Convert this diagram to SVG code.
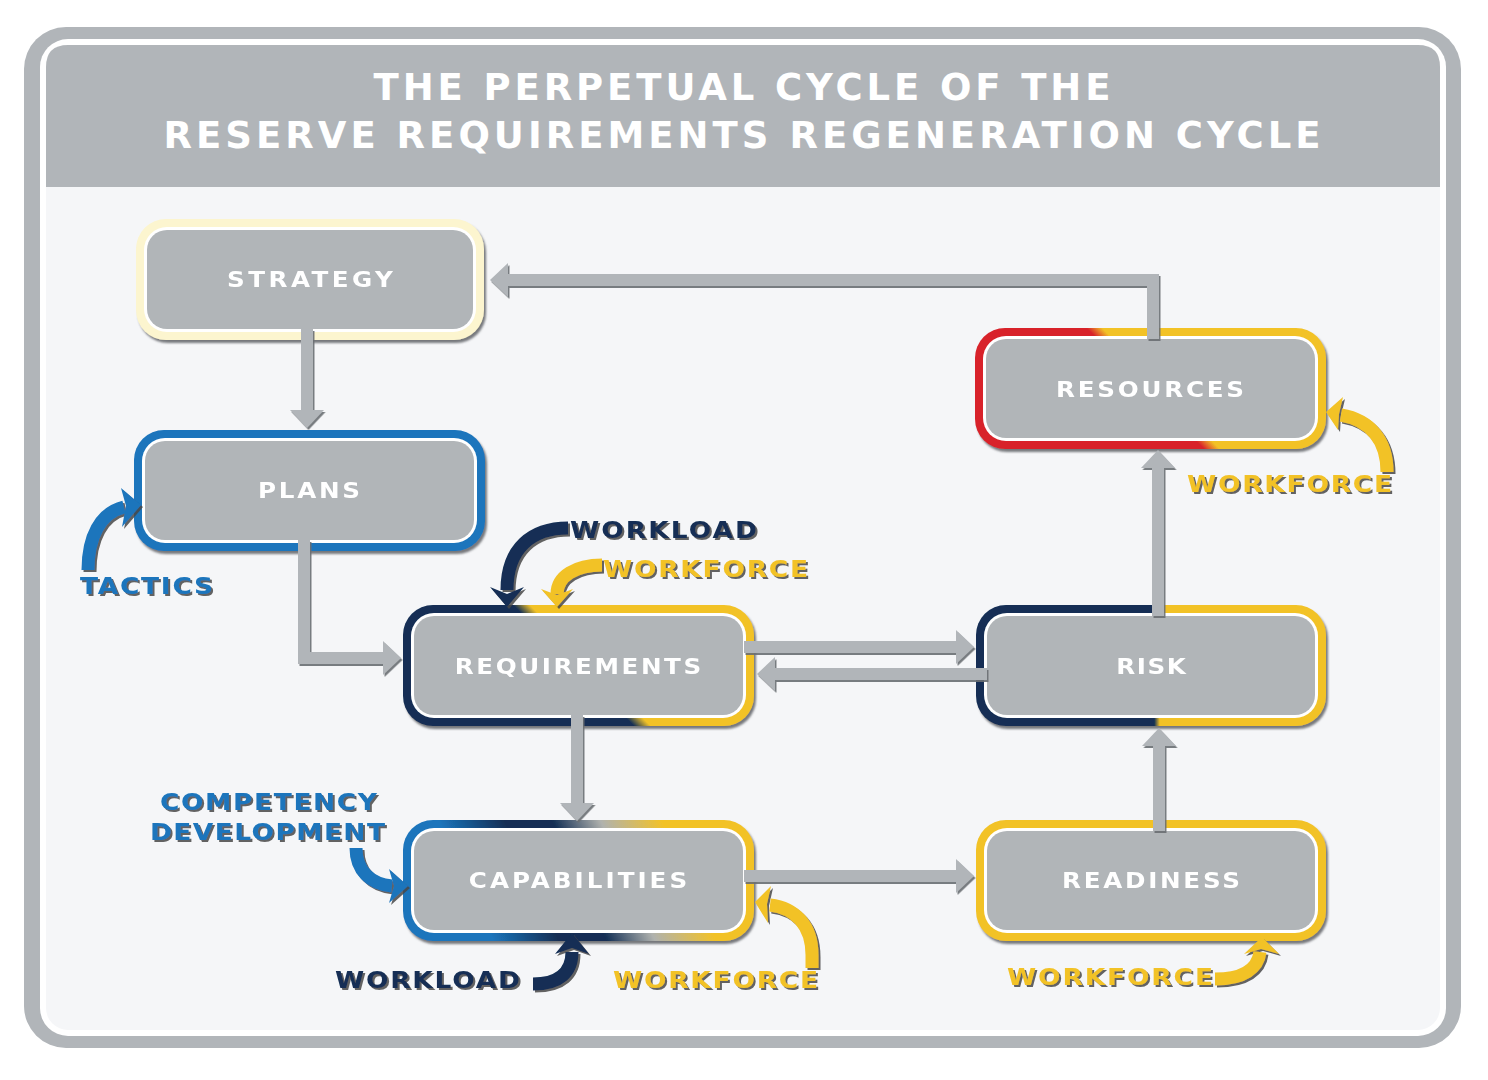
<svg xmlns="http://www.w3.org/2000/svg" width="1488" height="1080" viewBox="0 0 1488 1080">
<defs>
<style>
.frame{fill:#b1b5b9}
.ttl{font-family:"DejaVu Sans","Liberation Sans",sans-serif;font-weight:700;font-size:37px;fill:#ffffff;text-anchor:middle}
.nt{font-family:"DejaVu Sans","Liberation Sans",sans-serif;font-weight:700;font-size:22px;fill:#ffffff;text-anchor:middle}
.gray{fill:#b1b5b8}
.wht{fill:#ffffff}
.lbl{font-family:"DejaVu Sans","Liberation Sans",sans-serif;font-weight:700;font-size:23px}
.blue{fill:#1b75bc}
.navy{fill:#132f55}
.yel{fill:#f2c228}
.sblue{stroke:#1b75bc}
.snavy{stroke:#132f55}
.syel{stroke:#f2c228}
.curve{fill:none;stroke-width:13}
.conn{fill:none;stroke:#b1b5b9;stroke-width:12}
</style>
<filter id="nsh" x="-10%" y="-10%" width="120%" height="130%">
<feDropShadow dx="2" dy="3" stdDeviation="1" flood-color="#4d5054" flood-opacity="0.75"/>
</filter>
<filter id="csh" x="-10%" y="-10%" width="120%" height="120%">
<feDropShadow dx="1.5" dy="2" stdDeviation="0.6" flood-color="#6b6e72" flood-opacity="0.9"/>
</filter>
<filter id="lsh" x="-10%" y="-20%" width="120%" height="140%">
<feDropShadow dx="2" dy="2" stdDeviation="0.5" flood-color="#4a4a4a" flood-opacity="0.85"/>
</filter>
<marker id="ah" markerUnits="userSpaceOnUse" viewBox="0 0 18 34" markerWidth="18" markerHeight="34" refX="0" refY="17" orient="auto">
<path d="M0,0 L18,17 L0,34 Z" fill="#b1b5b9"/>
</marker>
<linearGradient id="gReq" gradientUnits="userSpaceOnUse" x1="560" y1="700" x2="620" y2="640">
<stop offset="0.40" stop-color="#132f55"/>
<stop offset="0.54" stop-color="#f2c228"/>
</linearGradient>
<linearGradient id="gRisk" gradientUnits="userSpaceOnUse" x1="1150" y1="0" x2="1164" y2="0">
<stop offset="0.3" stop-color="#132f55"/>
<stop offset="0.7" stop-color="#f2c228"/>
</linearGradient>
<linearGradient id="gRes" gradientUnits="userSpaceOnUse" x1="1110" y1="430" x2="1210" y2="333">
<stop offset="0.39" stop-color="#d8232a"/>
<stop offset="0.47" stop-color="#f2c228"/>
</linearGradient>
<linearGradient id="gCap" gradientUnits="userSpaceOnUse" x1="400" y1="900" x2="763" y2="735">
<stop offset="0.17" stop-color="#1b75bc"/>
<stop offset="0.32" stop-color="#132f55"/>
<stop offset="0.43" stop-color="#132f55"/>
<stop offset="0.54" stop-color="#b0b2ae"/>
<stop offset="0.68" stop-color="#f2c228"/>
</linearGradient>
</defs>

<!-- frame -->
<rect class="frame" x="24" y="27" width="1437" height="1021" rx="42"/>
<rect class="wht" x="40" y="39" width="1406" height="997" rx="28"/>
<rect x="46" y="45" width="1394" height="985" rx="22" fill="#f5f6f8"/>
<path class="frame" d="M46,187 V67 Q46,45 68,45 H1418 Q1440,45 1440,67 V187 Z"/>
<text class="ttl" x="742" y="100" textLength="737" lengthAdjust="spacing">THE PERPETUAL CYCLE OF THE</text>
<text class="ttl" x="742" y="148" textLength="1157" lengthAdjust="spacing">RESERVE REQUIREMENTS REGENERATION CYCLE</text>

<!-- nodes -->
<g id="strategy" filter="url(#nsh)">
<rect x="136" y="219" width="348" height="121" rx="30" fill="#fcf5cf"/>
<rect class="wht" x="144" y="227" width="332" height="105" rx="23"/>
<rect class="gray" x="147" y="230" width="326" height="99" rx="20"/>
<text class="nt" transform="translate(310,287) scale(1.12,1)" x="0" y="0" textLength="148" lengthAdjust="spacing">STRATEGY</text>
</g>
<g id="plans" filter="url(#nsh)">
<rect x="134" y="430" width="351" height="121" rx="30" fill="#1b75bc"/>
<rect class="wht" x="142" y="438" width="335" height="105" rx="23"/>
<rect class="gray" x="145" y="441" width="329" height="99" rx="20"/>
<text class="nt" transform="translate(309,498) scale(1.12,1)" x="0" y="0" textLength="91" lengthAdjust="spacing">PLANS</text>
</g>
<g id="requirements" filter="url(#nsh)">
<rect x="403" y="605" width="351" height="121" rx="30" fill="url(#gReq)"/>
<rect class="wht" x="411" y="613" width="335" height="105" rx="23"/>
<rect class="gray" x="414" y="616" width="329" height="99" rx="20"/>
<text class="nt" transform="translate(578,674) scale(1.12,1)" x="0" y="0" textLength="220" lengthAdjust="spacing">REQUIREMENTS</text>
</g>
<g id="risk" filter="url(#nsh)">
<rect x="976" y="605" width="350" height="121" rx="30" fill="url(#gRisk)"/>
<rect class="wht" x="984" y="613" width="334" height="105" rx="23"/>
<rect class="gray" x="987" y="616" width="328" height="99" rx="20"/>
<text class="nt" transform="translate(1151,674) scale(1.12,1)" x="0" y="0" textLength="62" lengthAdjust="spacing">RISK</text>
</g>
<g id="capabilities" filter="url(#nsh)">
<rect x="403" y="820" width="351" height="121" rx="30" fill="url(#gCap)"/>
<rect class="wht" x="411" y="828" width="335" height="105" rx="23"/>
<rect class="gray" x="414" y="831" width="329" height="99" rx="20"/>
<text class="nt" transform="translate(578,888) scale(1.12,1)" x="0" y="0" textLength="195" lengthAdjust="spacing">CAPABILITIES</text>
</g>
<g id="readiness" filter="url(#nsh)">
<rect x="976" y="820" width="350" height="121" rx="30" fill="#f2c228"/>
<rect class="wht" x="984" y="828" width="334" height="105" rx="23"/>
<rect class="gray" x="987" y="831" width="328" height="99" rx="20"/>
<text class="nt" transform="translate(1151,888) scale(1.12,1)" x="0" y="0" textLength="159" lengthAdjust="spacing">READINESS</text>
</g>
<g id="resources" filter="url(#nsh)">
<rect x="975" y="328" width="351" height="121" rx="30" fill="url(#gRes)"/>
<rect class="wht" x="983" y="336" width="335" height="105" rx="23"/>
<rect class="gray" x="986" y="339" width="329" height="99" rx="20"/>
<text class="nt" transform="translate(1150,397) scale(1.12,1)" x="0" y="0" textLength="168" lengthAdjust="spacing">RESOURCES</text>
</g>

<!-- connectors -->
<g id="connectors" filter="url(#csh)">
<path class="conn" d="M1153,339 V280 H508" marker-end="url(#ah)"/>
<path class="conn" d="M307,329 V410" marker-end="url(#ah)"/>
<path class="conn" d="M304,540 V658 H383" marker-end="url(#ah)"/>
<path class="conn" d="M744,647 H956" marker-end="url(#ah)"/>
<path class="conn" d="M987,674 H775" marker-end="url(#ah)"/>
<path class="conn" d="M577,715 V803" marker-end="url(#ah)"/>
<path class="conn" d="M744,876 H956" marker-end="url(#ah)"/>
<path class="conn" d="M1159,831 V746" marker-end="url(#ah)"/>
<path class="conn" d="M1158,616 V468" marker-end="url(#ah)"/>
</g>

<!-- influence labels -->
<g id="tactics" filter="url(#lsh)">
<path class="curve sblue" d="M88,570 C88,537 100,513 124,507"/>
<path class="blue" d="M141,505 L121,488 L126,506 L122,527 Z"/>
<text class="lbl blue" transform="translate(80,594) scale(1.15,1)" x="0" y="0" textLength="115.7" lengthAdjust="spacing">TACTICS</text>
</g>
<g id="workload-req" filter="url(#lsh)">
<path class="curve snavy" d="M568,528 C532,528 507,548 507,590"/>
<path class="navy" d="M507,607 L490,587 L507,594 L524,587 Z"/>
<text class="lbl navy" transform="translate(570,538) scale(1.15,1)" x="0" y="0" textLength="162.6" lengthAdjust="spacing">WORKLOAD</text>
</g>
<g id="workforce-req" filter="url(#lsh)">
<path class="curve syel" d="M602,565 C576,565 557,576 557,594"/>
<path class="yel" d="M557,607 L541,589 L557,595 L573,589 Z"/>
<text class="lbl yel" transform="translate(603,577) scale(1.15,1)" x="0" y="0" textLength="178.3" lengthAdjust="spacing">WORKFORCE</text>
</g>
<g id="competency" filter="url(#lsh)">
<path class="curve sblue" d="M356,848 C356,870 370,884 392,886"/>
<path class="blue" d="M408,886 L389,869 L394,886 L389,903 Z"/>
<text class="lbl blue" transform="translate(160,810) scale(1.15,1)" x="0" y="0" textLength="188.7" lengthAdjust="spacing">COMPETENCY</text>
<text class="lbl blue" transform="translate(150,840) scale(1.15,1)" x="0" y="0" textLength="204.3" lengthAdjust="spacing">DEVELOPMENT</text>
</g>
<g id="workload-cap" filter="url(#lsh)">
<path class="curve snavy" d="M533,984 C560,984 572,972 572,952"/>
<path class="navy" d="M572,933 L555,954 L572,948 L589,954 Z"/>
<text class="lbl navy" transform="translate(335,988) scale(1.15,1)" x="0" y="0" textLength="160.9" lengthAdjust="spacing">WORKLOAD</text>
</g>
<g id="workforce-cap" filter="url(#lsh)">
<path class="curve syel" d="M812,968 L812,955 C812,925 795,908 770,905"/>
<path class="yel" d="M755,902 L771,886 L767,904 L768,923 Z"/>
<text class="lbl yel" transform="translate(613,988) scale(1.15,1)" x="0" y="0" textLength="178.3" lengthAdjust="spacing">WORKFORCE</text>
</g>
<g id="workforce-res" filter="url(#lsh)">
<path class="curve syel" d="M1387,472 C1387,440 1370,420 1341,415"/>
<path class="yel" d="M1326,412 L1343,397 L1339,414 L1338,430 Z"/>
<text class="lbl yel" transform="translate(1187,492) scale(1.15,1)" x="0" y="0" textLength="178.3" lengthAdjust="spacing">WORKFORCE</text>
</g>
<g id="workforce-read" filter="url(#lsh)">
<path class="curve syel" d="M1215,979 C1244,979 1258,968 1260,952"/>
<path class="yel" d="M1262,937 L1244,954 L1261,949 L1279,954 Z"/>
<text class="lbl yel" transform="translate(1007,985) scale(1.15,1)" x="0" y="0" textLength="179.1" lengthAdjust="spacing">WORKFORCE</text>
</g>
</svg>
